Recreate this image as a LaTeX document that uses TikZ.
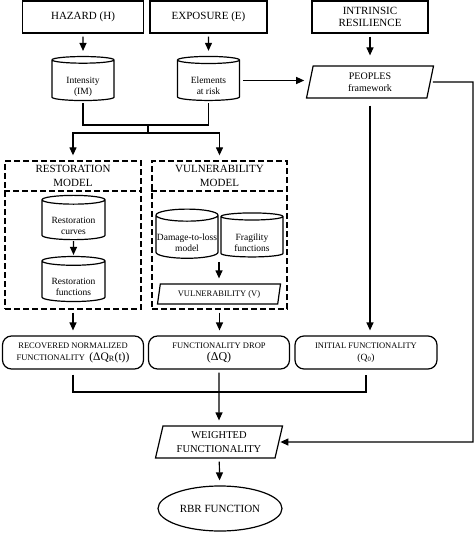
\documentclass[tikz,border=0pt]{standalone}
\usepackage{fontspec}
\setmainfont{Liberation Serif}
\usetikzlibrary{shapes.geometric,arrows.meta}

\begin{document}
\begin{tikzpicture}[x=1pt,y=-1pt,line width=1.2pt,
    arr/.style={-{Triangle[length=8pt,width=7pt]},shorten <=3pt,shorten >=5pt},
    topbox/.style={draw,rectangle,minimum width=#1,minimum height=32pt,inner sep=0pt,align=center,font=\fontsize{11}{12.5}\selectfont},
    db/.style={draw,cylinder,shape border rotate=90,aspect=0.2,minimum width=62pt,minimum height=44pt,inner sep=0pt,
        align=center,text height=29.5pt,text depth=1pt,font=\fontsize{9.5}{11}\selectfont},
    para/.style={draw,trapezium,trapezium left angle=70,trapezium right angle=110,trapezium stretches body,inner sep=0pt,align=center},
    model/.style={draw,dash pattern=on 6pt off 3pt,line width=1.3pt,minimum width=#1,minimum height=148pt,inner sep=0pt},
    outbox/.style={draw,rounded corners=9pt,minimum width=141pt,minimum height=33pt,inner sep=0pt,align=center,font=\fontsize{8.5}{12}\selectfont}]

    % Frame
    \useasboundingbox (0,0) rectangle (474,533);

    % Inputs
    \node[topbox=121pt] (haz) at (83,17) {HAZARD (H)};
    \node[topbox=117pt] (expo) at (208.5,17) {EXPOSURE (E)};
    \node[topbox=116pt] (intr) at (370,17) {INTRINSIC\\RESILIENCE};

    \node[db] (inten) at (83,80.5) {Intensity\\(IM)};
    \node[db] (elem) at (208.5,80.5) {Elements\\at risk};
    \node[para,minimum width=127pt,minimum height=32pt,font=\fontsize{10}{11.5}\selectfont] (peop) at (370,82) {PEOPLES\\framework};

    \draw[arr] (haz) -- (inten);
    \draw[arr] (expo) -- (elem);
    \draw[arr,shorten >=10pt] (intr) -- (peop);
    \draw[arr] (elem.east) -- (peop.west |- elem.east);

    % Models
    \node[model=136pt] (rest) at (73,235) {};
    \node[font=\fontsize{11}{13.5}\selectfont,align=center] (resttitle) at (73,176) {RESTORATION\\MODEL};
    \draw[dash pattern=on 6pt off 3pt,line width=1.3pt] (rest.west |- 0,191) -- (rest.east |- 0,191);

    \node[model=135pt] (vuln) at (219.5,235) {};
    \node[font=\fontsize{11}{13.5}\selectfont,align=center] (vulntitle) at (219.5,176) {VULNERABILITY\\MODEL};
    \draw[dash pattern=on 6pt off 3pt,line width=1.3pt] (vuln.west |- 0,191) -- (vuln.east |- 0,191);

    \coordinate (j1) at (148,125);
    \coordinate (j2) at (148,133);
    \draw ([yshift=-2pt]inten.south) |- (j1) -| ([yshift=-2pt]elem.south);
    \draw (j1) -- (j2);
    \draw[arr,shorten <=0pt] (j2) -| (rest.north);
    \draw[arr,shorten <=0pt] (j2) -| (vuln.north);

    % Restoration model
    \node[db,minimum width=63pt] (rcurv) at (73.5,220) {Restoration\\curves};
    \node[db,minimum width=63pt,minimum height=45pt] (rfunc) at (73.5,281.5) {Restoration\\functions};
    \draw[arr,shorten <=1pt,shorten >=1pt] (rcurv) -- (rfunc);

    % Vulnerability model
    \node[db] (dmg) at (187,237) {Damage-to-loss\\model};
    \node[db] (frag) at (252,237) {Fragility\\functions};
    \node[para,minimum width=123pt,minimum height=20pt,font=\fontsize{8.5}{10}\selectfont] (vpar) at (219,294) {VULNERABILITY (V)};
    \draw[arr] (vpar.north |- dmg.south) -- (vpar.north);

    % Functionality
    \node[outbox] (recov) at (73,352.5) {RECOVERED NORMALIZED\\FUNCTIONALITY \ {\fontsize{11.5}{11}\selectfont(ΔQ\textsubscript{R}(t))}};
    \node[outbox] (drop) at (219,352.5) {FUNCTIONALITY DROP\\{\fontsize{12}{11}\selectfont(ΔQ)}};
    \node[outbox,minimum width=142pt] (init) at (366,352.5) {INITIAL FUNCTIONALITY\\{\fontsize{9.5}{11}\selectfont(Q\textsubscript{0})}};

    \draw[arr] (rest) -- (recov);
    \draw[arr] (vuln.south) -- (vuln.south |- drop.north);
    \draw[arr,shorten <=7pt] (peop.south) -- (peop.south |- init.north);

    % Output
    \node[para,minimum width=127pt,minimum height=32pt,font=\fontsize{10.5}{13.5}\selectfont] (wpar) at (219,442) {WEIGHTED\\FUNCTIONALITY};
    \node[draw,ellipse,minimum width=124pt,minimum height=45pt,inner sep=0pt,font=\fontsize{11}{12}\selectfont] (rbr) at (220,508.5) {RBR FUNCTION};

    \coordinate (j3) at (219,392);
    \coordinate (fb) at (473,442);
    \draw ([yshift=-5pt]recov.south) |- (j3) -| ([yshift=-5pt]init.south);
    \draw[arr] (drop) -- (wpar);
    \draw[arr,shorten <=2pt,shorten >=1pt] (peop.east) -| (fb) -- (wpar.east);
    \draw[arr] (wpar) -- (rbr);

\end{tikzpicture}
\end{document}
